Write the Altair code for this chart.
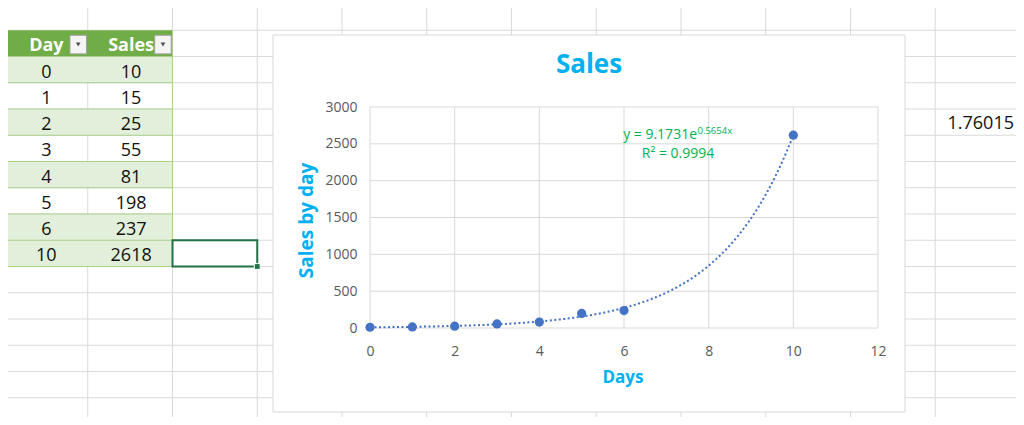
import altair as alt
import pandas as pd

# ---------------- values ----------------
days = [0, 1, 2, 3, 4, 5, 6, 10]
sales = [10, 15, 25, 55, 81, 198, 237, 2618]
table_headers = ["Day", "Sales"]
x_ticks = [0, 2, 4, 6, 8, 10, 12]
y_ticks = [0, 500, 1000, 1500, 2000, 2500, 3000]
chart_title = "Sales"
x_title = "Days"
y_title = "Sales by day"
eq_main = "y = 9.1731e"
eq_power = "0.5654x"
eq_r2 = "R² = 0.9994"
side_value = "1.76015"

# ---------------- styles and layout ----------------
W, H = 1008, 409
FONT = "Open Sans"
SHEET_COLS, SHEET_ROWS = 12, 16
BANDED = [0, 2, 4, 6, 7]  # data-row positions that carry the light-green band
BLUE = "#4472C4"
CYAN = "#00B0F0"
GREEN_TXT = "#00B050"
SHEET_GRID = "#DADADA"
CHART_GRID = "#D9D9D9"

# ---------------- spreadsheet layer (cell index scales) ----------------
SX = alt.Scale(domain=[0, SHEET_COLS], range=[-5, 1012], nice=False, zero=False)
SY = alt.Scale(domain=[0, SHEET_ROWS], range=[-4, 416], nice=False, zero=False)


def sx(f):
    return alt.X(f, type="quantitative", scale=SX, axis=None)


def sy(f):
    return alt.Y(f, type="quantitative", scale=SY, axis=None)


vgrid_df = pd.DataFrame({"c": list(range(SHEET_COLS + 1)), "r0": 0, "r1": SHEET_ROWS})
hgrid_df = pd.DataFrame({"r": list(range(SHEET_ROWS + 1)), "c0": 0, "c1": SHEET_COLS})

first_row = 2  # header sits in sheet row index 1
n = len(days)
band_df = pd.DataFrame({"r": [first_row + i for i in BANDED]})
band_df["r1"] = band_df["r"] + 1
band_df["c0"] = 0
band_df["c1"] = 2

header_df = pd.DataFrame({"c0": [0], "c1": [2], "r": [1], "r1": [2]})
tline_h = pd.DataFrame({"r": list(range(first_row, first_row + n + 1)), "c0": 0, "c1": 2})
tline_v = pd.DataFrame({"c": [0, 2], "r0": 1, "r1": first_row + n})

head_txt = pd.DataFrame({"c": [i + 0.5 for i in range(len(table_headers))],
                         "r": 1, "t": table_headers})
btn_df = pd.DataFrame({"c0": [i + 0.79 for i in range(len(table_headers))],
                       "c1": [i + 0.985 for i in range(len(table_headers))],
                       "r0": 1.19, "r1": 1.9})
tri_df = pd.DataFrame({"c": [i + 0.8875 for i in range(len(table_headers))], "r": 1.545})

cells = []
for i, (d, s) in enumerate(zip(days, sales)):
    cells.append({"c": 0.5, "r": first_row + i, "t": str(d)})
    cells.append({"c": 1.5, "r": first_row + i, "t": str(s)})
cells_df = pd.DataFrame(cells)

sel_df = pd.DataFrame({"c0": [2], "c1": [3], "r0": [first_row + n - 1], "r1": [first_row + n]})
handle_df = pd.DataFrame({"c": [3], "r": [first_row + n]})
side_df = pd.DataFrame({"c": [12], "r": [4], "t": [side_value]})

sheet = alt.layer(
    alt.Chart(vgrid_df).mark_rule(color=SHEET_GRID, strokeWidth=1).encode(
        x=sx("c"), y=sy("r0"), y2="r1"),
    alt.Chart(hgrid_df).mark_rule(color=SHEET_GRID, strokeWidth=1).encode(
        y=sy("r"), x=sx("c0"), x2="c1"),
    alt.Chart(band_df).mark_rect(color="#E2EFDA").encode(
        x=sx("c0"), x2="c1", y=sy("r"), y2="r1"),
    alt.Chart(header_df).mark_rect(color="#70AD47").encode(
        x=sx("c0"), x2="c1", y=sy("r"), y2="r1"),
    alt.Chart(tline_h).mark_rule(color="#A9D08E", strokeWidth=1).encode(
        y=sy("r"), x=sx("c0"), x2="c1"),
    alt.Chart(tline_v).mark_rule(color="#A9D08E", strokeWidth=1).encode(
        x=sx("c"), y=sy("r0"), y2="r1"),
    alt.Chart(head_txt).mark_text(font=FONT, fontSize=18, fontWeight="bold", color="white",
                                  baseline="alphabetic", align="center", dx=1, dy=21).encode(
        x=sx("c"), y=sy("r"), text="t:N"),
    alt.Chart(btn_df).mark_rect(fill="#F4F4F4", stroke="#A0A0A0", strokeWidth=1).encode(
        x=sx("c0"), x2="c1", y=sy("r0"), y2="r1"),
    alt.Chart(tri_df).mark_point(shape="triangle-down", filled=True, size=22,
                                 color="#505050", opacity=1).encode(x=sx("c"), y=sy("r")),
    alt.Chart(cells_df).mark_text(font=FONT, fontSize=18, color="#111111",
                                  baseline="alphabetic", align="center", dx=1, dy=21).encode(
        x=sx("c"), y=sy("r"), text="t:N"),
    alt.Chart(sel_df).mark_rect(fillOpacity=0, stroke="#217346", strokeWidth=2).encode(
        x=sx("c0"), x2="c1", y=sy("r0"), y2="r1"),
    alt.Chart(handle_df).mark_square(size=34, color="#217346", opacity=1,
                                     stroke="white", strokeWidth=1).encode(x=sx("c"), y=sy("r")),
    alt.Chart(side_df).mark_text(font=FONT, fontSize=18, color="#111111",
                                 baseline="alphabetic", align="right", dx=-6, dy=19.5).encode(
        x=sx("c"), y=sy("r"), text="t:N"),
)

# ---------------- chart object layer ----------------
CX = alt.Scale(domain=[x_ticks[0], x_ticks[-1]], range=[362, 870], nice=False, zero=False)
CY = alt.Scale(domain=[y_ticks[0], y_ticks[-1]], range=[320, 99], nice=False, zero=False)

x_axis = alt.Axis(values=x_ticks, orient="bottom", offset=-(H - 320), domain=False,
                  ticks=False, tickSize=0, grid=False, title=None, labelFont=FONT,
                  labelFontSize=14, labelColor="#595959", labelPadding=16, labelOverlap=False,
                  labelFlush=False, zindex=2)
y_axis = alt.Axis(values=y_ticks, orient="left", offset=-362, domain=False, format="d",
                  ticks=False, tickSize=0, grid=False, title=None, labelFont=FONT,
                  labelFontSize=14, labelColor="#595959", labelPadding=13, labelOverlap=False,
                  labelFlush=False, zindex=2)


def cx(f):
    return alt.X(f, type="quantitative", scale=CX, axis=x_axis)


def cy(f):
    return alt.Y(f, type="quantitative", scale=CY, axis=y_axis)


pts = pd.DataFrame({"Day": days, "Sales": sales})
gv_df = pd.DataFrame({"Day": x_ticks, "lo": y_ticks[0], "hi": y_ticks[-1]})
gh_df = pd.DataFrame({"Sales": y_ticks, "lo": x_ticks[0], "hi": x_ticks[-1]})

frame = alt.Chart(pd.DataFrame({"k": [0]})).mark_rect(
    fill="white", stroke="#D9D9D9", strokeWidth=1).encode(
    x=alt.value(265), x2=alt.value(897), y=alt.value(27), y2=alt.value(404))

title_txt = alt.Chart(pd.DataFrame({"t": [chart_title]})).mark_text(
    font=FONT, fontSize=26, fontWeight="bold", color=CYAN, baseline="alphabetic",
    align="center").encode(text="t:N", x=alt.value(581), y=alt.value(65))

ytitle = alt.Chart(pd.DataFrame({"t": [y_title]})).mark_text(
    font=FONT, fontSize=19, fontWeight="bold", color=CYAN, baseline="middle",
    align="center", angle=270).encode(text="t:N", x=alt.value(299), y=alt.value(212.5))

xtitle = alt.Chart(pd.DataFrame({"t": [x_title]})).mark_text(
    font=FONT, fontSize=17, fontWeight="bold", color=CYAN, baseline="alphabetic",
    align="center").encode(text="t:N", x=alt.value(615), y=alt.value(375))

grid_v = alt.Chart(gv_df).mark_rule(color=CHART_GRID, strokeWidth=1).encode(
    x=cx("Day"), y=cy("lo"), y2="hi")
grid_h = alt.Chart(gh_df).mark_rule(color=CHART_GRID, strokeWidth=1).encode(
    y=cy("Sales"), x=cx("lo"), x2="hi")

# Exponential trendline, fitted as Excel does (least squares on ln(Sales))
trend = alt.Chart(pts).transform_calculate(
    lnS="log(datum.Sales)"
).transform_regression(
    "Day", "lnS", method="linear", params=True
).transform_calculate(
    idx="sequence(0, 201)"
).transform_flatten(
    ["idx"]
).transform_calculate(
    Day="datum.idx * 0.05"
).transform_calculate(
    Sales="exp(datum.coef[0] + datum.coef[1] * datum.Day)"
).mark_line(color=BLUE, strokeWidth=2, strokeDash=[2, 2.5]).encode(
    x=cx("Day"), y=cy("Sales"), order="Day:Q")

points = alt.Chart(pts).mark_circle(size=85, color=BLUE, opacity=1).encode(
    x=cx("Day"), y=cy("Sales"))

eq1 = alt.Chart(pd.DataFrame({"t": [eq_main]})).mark_text(
    font=FONT, fontSize=14, color=GREEN_TXT, baseline="alphabetic", align="right").encode(
    text="t:N", x=alt.value(689), y=alt.value(131))
eq1p = alt.Chart(pd.DataFrame({"t": [eq_power]})).mark_text(
    font=FONT, fontSize=9.5, color=GREEN_TXT, baseline="alphabetic", align="left").encode(
    text="t:N", x=alt.value(689.5), y=alt.value(126))
eq2 = alt.Chart(pd.DataFrame({"t": [eq_r2]})).mark_text(
    font=FONT, fontSize=14, color=GREEN_TXT, baseline="alphabetic", align="center").encode(
    text="t:N", x=alt.value(670), y=alt.value(150))

chart_obj = alt.layer(frame, grid_v, grid_h, trend, points, title_txt, ytitle, xtitle,
                      eq1, eq1p, eq2)

chart = alt.layer(sheet, chart_obj).resolve_scale(
    x="independent", y="independent"
).properties(
    width=W, height=H, padding=0, autosize=alt.AutoSizeParams(type="none")
).configure_view(stroke=None)

chart.save("out.html", embed_options={"renderer": "svg", "actions": False})
